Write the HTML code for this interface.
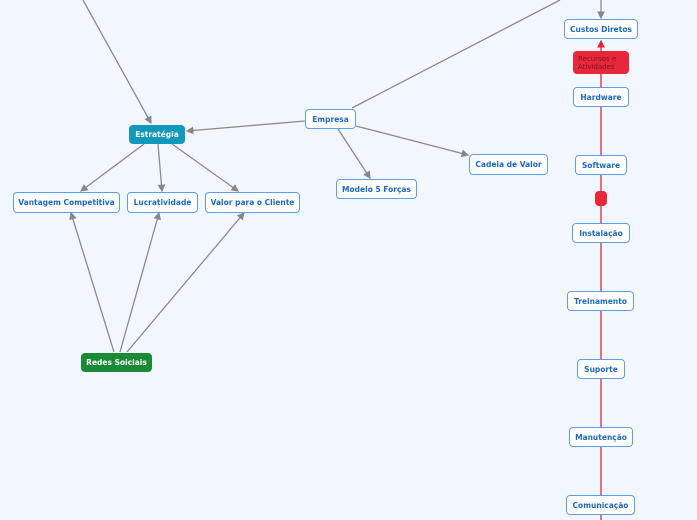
<!DOCTYPE html>
<html><head><meta charset="utf-8"><style>
body{margin:0;width:697px;height:520px;background:#f2f6fe;position:relative;overflow:hidden;font-family:"DejaVu Sans","Liberation Sans",sans-serif}
.n{position:absolute;box-sizing:border-box;border:1.5px solid #5a9ef0;border-radius:4px;background:#fff;color:#1b68c8;font-weight:bold;font-size:7.5px;display:flex;align-items:center;justify-content:center;white-space:nowrap}
.f{border:none;color:#fff}
svg{position:absolute;left:0;top:0}
</style></head><body>
<svg width="697" height="520">
<defs>
<marker id="g" markerWidth="6" markerHeight="6" refX="5" refY="3" orient="auto"><path d="M0,0L6,3L0,6z" fill="#888"/></marker>
<marker id="r" markerWidth="6" markerHeight="6" refX="5" refY="3" orient="auto"><path d="M0,0L6,3L0,6z" fill="#e0283a"/></marker>
</defs>
<g stroke="#8a8a8e" stroke-width="1.3" fill="none" marker-end="url(#g)">
<line x1="83" y1="0" x2="151" y2="123"/>
<line x1="601" y1="0" x2="601" y2="18"/>
<line x1="305" y1="121" x2="187" y2="131"/>
<line x1="338" y1="129" x2="370" y2="178"/>
<line x1="356" y1="126" x2="468" y2="155"/>
<line x1="144" y1="144" x2="81" y2="191"/>
<line x1="158" y1="144" x2="162" y2="191"/>
<line x1="172" y1="144" x2="238" y2="191"/>
<line x1="114" y1="352" x2="71" y2="213"/>
<line x1="120" y1="352" x2="159" y2="213"/>
<line x1="127" y1="352" x2="244" y2="213"/>
</g>
<line x1="352" y1="108" x2="560" y2="0" stroke="#8a8a8e" stroke-width="1.3"/>
<line x1="601" y1="520" x2="601" y2="41" stroke="#e0283a" stroke-width="1.3" marker-end="url(#r)"/>
</svg>
<div class="n" style="left:564px;top:19px;width:74px;height:20px">Custos Diretos</div>
<div class="n f" style="left:573px;top:51px;width:56px;height:23px;background:#e8283a;color:#7a1520;font-weight:normal;font-size:7px;line-height:8px;justify-content:flex-start;padding-left:5px;white-space:normal">Recursos e Atividades</div>
<div class="n" style="left:573px;top:87px;width:56px;height:20px">Hardware</div>
<div class="n" style="left:575px;top:155px;width:52px;height:20px">Software</div>
<div class="n f" style="left:595px;top:191px;width:12px;height:15px;background:#e8283a"></div>
<div class="n" style="left:572px;top:223px;width:58px;height:20px">Instalação</div>
<div class="n" style="left:567px;top:291px;width:67px;height:20px">Treinamento</div>
<div class="n" style="left:577px;top:359px;width:48px;height:20px">Suporte</div>
<div class="n" style="left:569px;top:427px;width:64px;height:20px">Manutenção</div>
<div class="n" style="left:566px;top:495px;width:69px;height:20px">Comunicação</div>
<div class="n f" style="left:129px;top:125px;width:56px;height:19px;background:#1199bb">Estratégia</div>
<div class="n" style="left:305px;top:109px;width:51px;height:20px">Empresa</div>
<div class="n" style="left:13px;top:192px;width:107px;height:21px">Vantagem Competitiva</div>
<div class="n" style="left:127px;top:192px;width:71px;height:21px">Lucratividade</div>
<div class="n" style="left:205px;top:192px;width:95px;height:21px">Valor para o Cliente</div>
<div class="n" style="left:336px;top:179px;width:81px;height:20px">Modelo 5 Forças</div>
<div class="n" style="left:469px;top:154px;width:79px;height:21px">Cadeia de Valor</div>
<div class="n f" style="left:81px;top:353px;width:71px;height:19px;background:#1a8a36">Redes Soiciais</div>
</body></html>
